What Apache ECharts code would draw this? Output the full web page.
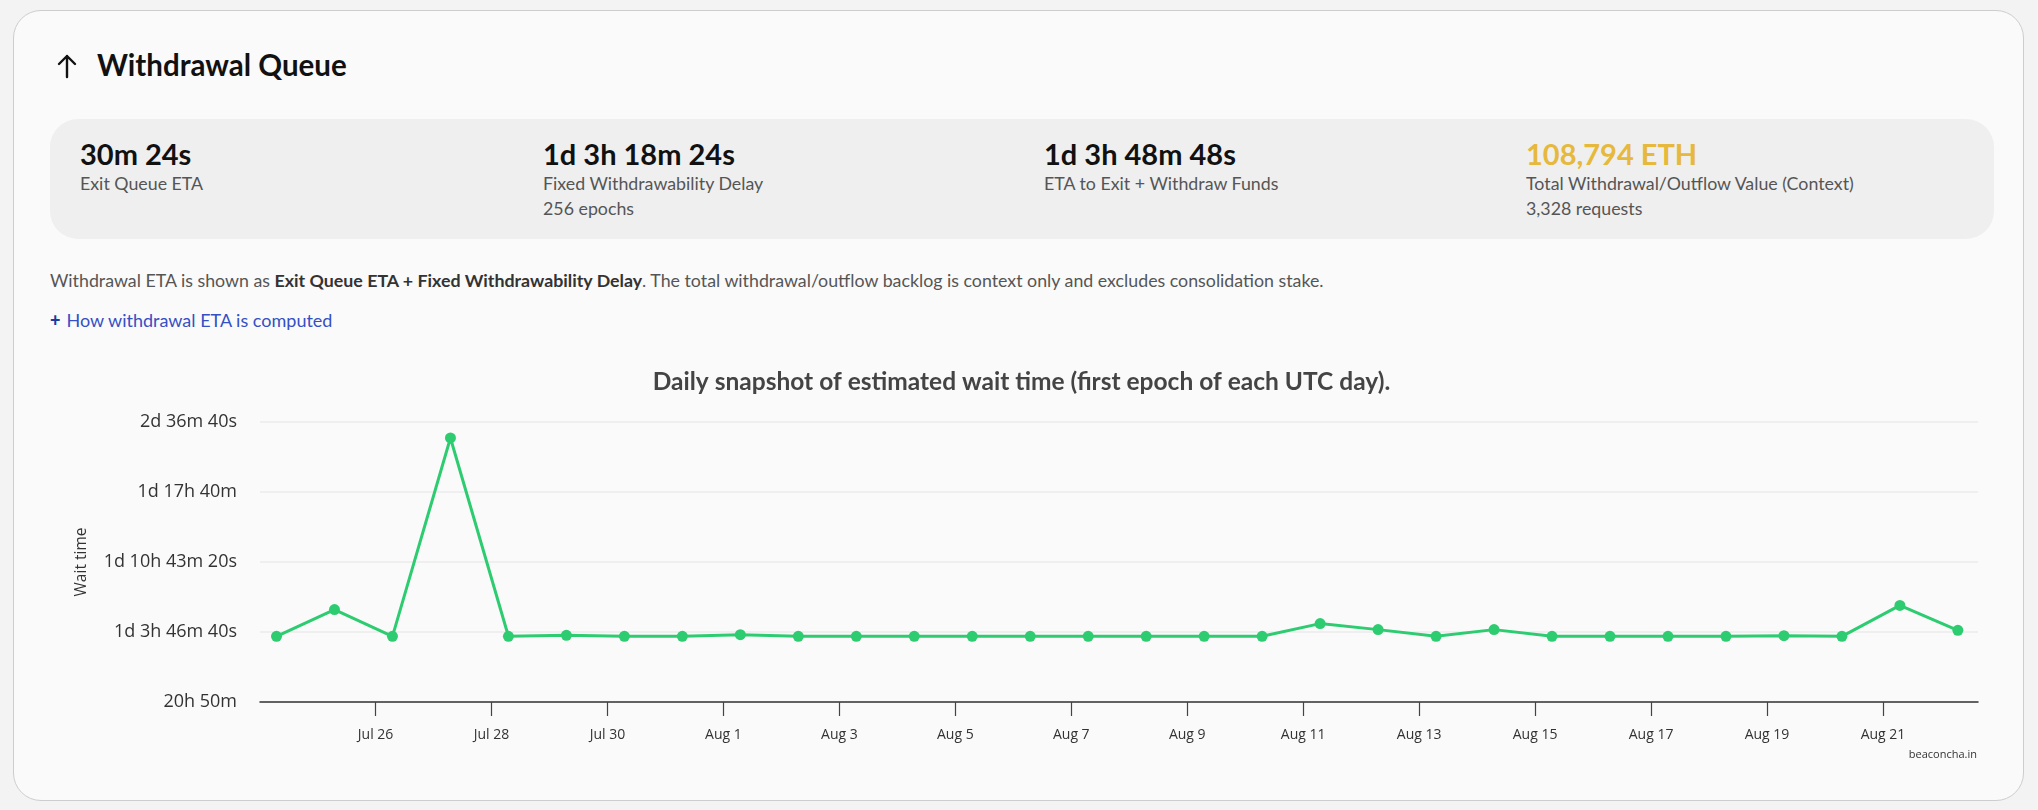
<!DOCTYPE html>
<html>
<head>
<meta charset="utf-8">
<script src="https://cdn.jsdelivr.net/npm/echarts@6/dist/echarts.min.js"></script>
<style>
  html, body { margin: 0; padding: 0; }
  body { width: 2038px; height: 810px; background: #f3f3f3; position: relative; overflow: hidden; font-family: Lato, "Noto Sans", sans-serif; }
  .card { position: absolute; left: 13px; top: 10px; width: 2009px; height: 789px; background: #fafafa; border: 1.5px solid #cdcdcd; border-radius: 28px; }
  .abs { position: absolute; white-space: nowrap; }
  .title { left: 97px; top: 50px; font-size: 29.5px; line-height: 29.5px; font-weight: 700; color: #111; }
  .arrow { left: 56px; top: 53px; }
  .stats { position: absolute; left: 50px; top: 119px; width: 1944px; height: 120px; background: #efefef; border-radius: 28px; }
  .val { top: 139px; font-size: 29px; line-height: 29px; font-weight: 700; color: #111; }
  .lbl { top: 171px; font-size: 17.8px; line-height: 25px; color: #555; }
  .desc { left: 50px; top: 268px; font-size: 17.8px; line-height: 25px; color: #555; }
  .desc b { color: #333; }
  .link { left: 50px; top: 308px; font-size: 18px; line-height: 25px; color: #3550c4; }
  .link span { color: #1f3a9e; font-weight: 900; margin-right: 6px; }
  #main { position: absolute; left: 49px; top: 355px; width: 1945px; height: 440px; }
</style>
</head>
<body>
<div class="card"></div>
<svg class="abs arrow" width="22" height="26" viewBox="0 0 22 26">
  <path d="M11 3 L11 24 M3 11 L11 3 L19 11" stroke="#111" stroke-width="2.4" fill="none" stroke-linecap="round" stroke-linejoin="round"/>
</svg>
<div class="abs title">Withdrawal Queue</div>
<div class="stats"></div>
<div class="abs val" style="left:80px">30m 24s</div>
<div class="abs lbl" style="left:80px">Exit Queue ETA</div>
<div class="abs val" style="left:543px">1d 3h 18m 24s</div>
<div class="abs lbl" style="left:543px">Fixed Withdrawability Delay<br>256 epochs</div>
<div class="abs val" style="left:1044px">1d 3h 48m 48s</div>
<div class="abs lbl" style="left:1044px">ETA to Exit + Withdraw Funds</div>
<div class="abs val" style="left:1526px;color:#e6b83b">108,794 ETH</div>
<div class="abs lbl" style="left:1526px">Total Withdrawal/Outflow Value (Context)<br>3,328 requests</div>
<div class="abs desc">Withdrawal ETA is shown as <b>Exit Queue ETA + Fixed Withdrawability Delay</b>. The total withdrawal/outflow backlog is context only and excludes consolidation stake.</div>
<div class="abs link"><span>+</span>How withdrawal ETA is computed</div>
<div id="main"></div>
<script>
// snapshot dates (first epoch of each day, shown in local time)
var snapDates = ['2025-07-24 07:00', '2025-07-25 07:00', '2025-07-26 07:00', '2025-07-27 07:00', '2025-07-28 07:00',
  '2025-07-29 07:00', '2025-07-30 07:00', '2025-07-31 07:00', '2025-08-01 07:00', '2025-08-02 07:00',
  '2025-08-03 07:00', '2025-08-04 07:00', '2025-08-05 07:00', '2025-08-06 07:00', '2025-08-07 07:00',
  '2025-08-08 07:00', '2025-08-09 07:00', '2025-08-10 07:00', '2025-08-11 07:00', '2025-08-12 07:00',
  '2025-08-13 07:00', '2025-08-14 07:00', '2025-08-15 07:00', '2025-08-16 07:00', '2025-08-17 07:00',
  '2025-08-18 07:00', '2025-08-19 07:00', '2025-08-20 07:00', '2025-08-21 07:00', '2025-08-22 07:00'];
// wait time in seconds
var waitSeconds = [98460, 108000, 98460, 169300, 98470, 98800, 98460, 98470, 99050, 98470,
  98460, 98470, 98460, 98460, 98470, 98460, 98460, 98470, 103000, 100850,
  98460, 100850, 98470, 98460, 98460, 98470, 98700, 98460, 109500, 100600];
// x axis tick dates
var tickDates = ['2025-07-26', '2025-07-28', '2025-07-30', '2025-08-01', '2025-08-03', '2025-08-05', '2025-08-07',
  '2025-08-09', '2025-08-11', '2025-08-13', '2025-08-15', '2025-08-17', '2025-08-19', '2025-08-21'];
var xMin = '2025-07-24 00:10';
var xMax = '2025-08-22 15:20';
var yMin = 75000, yMax = 175000, yStep = 25000;

var monthNames = ['Jan','Feb','Mar','Apr','May','Jun','Jul','Aug','Sep','Oct','Nov','Dec'];

function toTs(s) {
  var p = s.split(/[- :]/).map(Number);
  return new Date(p[0], p[1] - 1, p[2], p[3] || 0, p[4] || 0).getTime();
}

function fmtWait(v) {
  var d = Math.floor(v / 86400), h = Math.floor(v % 86400 / 3600);
  var m = Math.floor(v % 3600 / 60), s = Math.round(v % 60);
  var out = [];
  if (d) out.push(d + 'd');
  if (h) out.push(h + 'h');
  if (m) out.push(m + 'm');
  if (s) out.push(s + 's');
  return out.join(' ') || '0s';
}

var myChart = echarts.init(document.getElementById('main'));
var ticks = tickDates.map(toTs);

var option = {
  animation: false,
  title: {
    text: 'Daily snapshot of estimated wait time (first epoch of each UTC day).',
    left: 'center',
    top: 10,
    textStyle: { fontFamily: 'Lato', fontSize: 24.5, fontWeight: 700, color: '#444' }
  },
  grid: { left: 211, right: 16, top: 67, bottom: 93 },
  xAxis: {
    type: 'value',
    min: toTs(xMin),
    max: toTs(xMax),
    axisLine: { lineStyle: { color: '#333', width: 1.5 } },
    axisTick: { show: true, length: 14, customValues: ticks, lineStyle: { color: '#444', width: 1.2 } },
    axisLabel: {
      customValues: ticks,
      margin: 26,
      fontFamily: 'Open Sans',
      fontSize: 14,
      color: '#333',
      formatter: function (v) {
        var d = new Date(v);
        return monthNames[d.getMonth()] + ' ' + d.getDate();
      }
    },
    splitLine: { show: false }
  },
  yAxis: {
    type: 'value',
    min: yMin,
    max: yMax,
    interval: yStep,
    name: 'Wait time',
    nameLocation: 'middle',
    nameGap: 170,
    nameTextStyle: { fontFamily: 'Open Sans', fontSize: 15.5, color: '#333' },
    axisLine: { show: false },
    axisTick: { show: false },
    axisLabel: { margin: 23, fontFamily: 'Open Sans', fontSize: 18, color: '#333', formatter: fmtWait },
    splitLine: { lineStyle: { color: '#ebebeb', width: 1.5 } }
  },
  graphic: [{
    type: 'text',
    right: 17,
    top: 394,
    style: { text: 'beaconcha.in', fontFamily: 'Open Sans', fontSize: 11, fill: '#333' }
  }],
  series: [{
    name: 'Wait time',
    type: 'line',
    data: snapDates.map(function (s, i) { return [toTs(s), waitSeconds[i]]; }),
    symbol: 'circle',
    symbolSize: 11,
    showSymbol: true,
    lineStyle: { color: '#2ecc71', width: 3 },
    itemStyle: { color: '#2ecc71' }
  }]
};

myChart.setOption(option);
</script>
</body>
</html>
